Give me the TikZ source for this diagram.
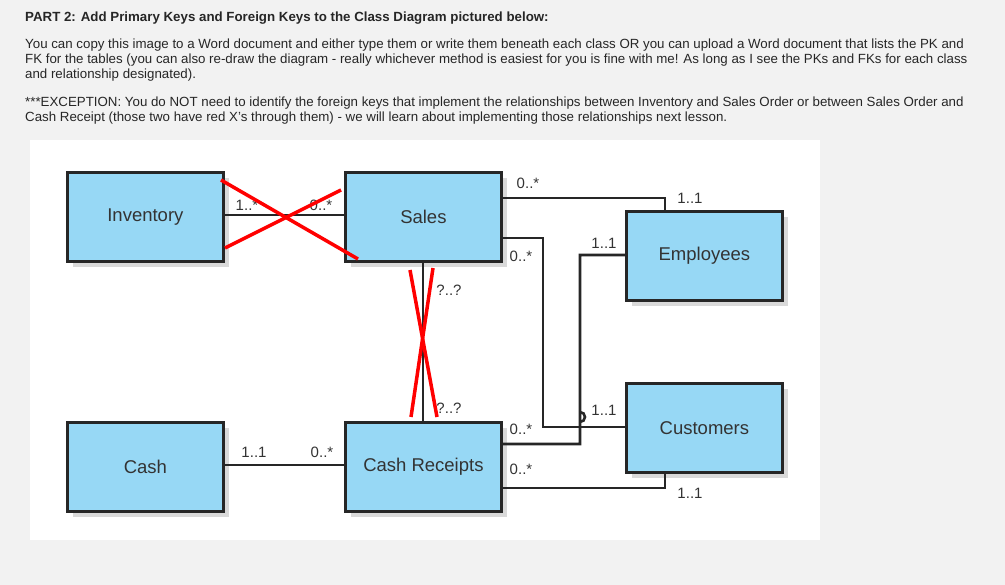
\documentclass[tikz,border=0pt]{standalone}
\usepackage{fontspec}
\setmainfont{Liberation Sans}
\begin{document}
\begin{tikzpicture}[x=1pt,y=-1pt,
 box/.style={draw=black!85,line width=2.8pt,fill={rgb,255:red,151;green,216;blue,245},minimum width=156pt,minimum height=89pt,anchor=north west,inner sep=0pt,font=\fontsize{18.5}{20}\selectfont,text=black!80},
 ln/.style={draw=black!85,line width=2.6pt},
 lab/.style={font=\fontsize{15}{17}\selectfont,text=black!80,inner sep=0pt},
 red/.style={draw=red,line width=3.5pt},
 hd/.style={anchor=west,inner sep=0pt,font=\fontsize{13.3}{15}\selectfont,text=black!85}]
\fill[black!5] (0,0) rectangle (1005,585);
\useasboundingbox (0,0) rectangle (1005,585);
\fill[white] (30,140) rectangle (820,540);
\node[hd,font=\bfseries\fontsize{13.3}{15}\selectfont] (h0) at (25,18) {PART 2: Add Primary Keys and Foreign Keys to the Class Diagram pictured below:};
\node[hd] (h1) at (25,45) {You can copy this image to a Word document and either type them or write them beneath each class OR you can upload a Word document that lists the PK and};
\node[hd] (h2) at (25,60) {FK for the tables (you can also re-draw the diagram - really whichever method is easiest for you is fine with me! As long as I see the PKs and FKs for each class};
\node[hd] (h3) at (25,75) {and relationship designated).};
\node[hd] (h4) at (25,103) {***EXCEPTION: You do NOT need to identify the foreign keys that implement the relationships between Inventory and Sales Order or between Sales Order and};
\node[hd] (h5) at (25,118) {Cash Receipt (those two have red X's through them) - we will learn about implementing those relationships next lesson.};
\foreach \x/\y in {66/171,344/171,625/210,625/382,66/421,344/421}
  \fill[black!15] (\x+7,\y+7) rectangle (\x+163,\y+96);
\coordinate (a1) at (543,238); \coordinate (a2) at (543,427);
\coordinate (b1) at (580,255); \coordinate (b2) at (580,444);
\coordinate (c1) at (665,198); \coordinate (d1) at (665,488);
\node[box] (inv) at (66,171) {Inventory};
\node[box] (sal) at (344,171) {Sales};
\node[box] (emp) at (625,210) {Employees};
\node[box] (cus) at (625,382) {Customers};
\node[box] (cash) at (66,421) {Cash};
\node[box] (cr) at (344,421) {Cash Receipts};
\draw[ln] (inv.east |- 0,215) -- (sal.west |- 0,215);
\draw[ln] (cash.east |- 0,465) -- (cr.west |- 0,465);
\draw[ln] (sal.south -| 423,0) -- (cr.north -| 423,0);
\draw[ln] (sal.east |- c1) -- (c1) -- (emp.north -| c1);
\draw[ln] (sal.east |- a1) -- (a1) -- (a2) -- (cus.west |- a2);
\draw[ln] (emp.west |- b1) -- (b1) -- (580,422) arc[start angle=-90,end angle=90,radius=5pt] -- (b2) -- (cr.east |- b2);
\draw[ln] (cr.east |- d1) -- (d1) -- (cus.south -| d1);
\node[lab] (l1) at (247,205) {1..*};
\node[lab] (l2) at (321,205) {0..*};
\node[lab] (l3) at (254,452) {1..1};
\node[lab] (l4) at (322,452) {0..*};
\node[lab] (l5) at (449,290) {?..?};
\node[lab] (l6) at (449,408) {?..?};
\node[lab] (l7) at (528,183) {0..*};
\node[lab] (l8) at (690,198) {1..1};
\node[lab] (l9) at (521,256) {0..*};
\node[lab] (l10) at (604,243) {1..1};
\node[lab] (l11) at (604,410) {1..1};
\node[lab] (l12) at (521,429) {0..*};
\node[lab] (l13) at (521,469) {0..*};
\node[lab] (l14) at (690,493) {1..1};
\draw[red] (221,180) -- (358,259);
\draw[red] (225,248) -- (341,190);
\draw[red] (410,270) -- (437,417);
\draw[red] (433,268) -- (411,417);
\end{tikzpicture}
\end{document}
